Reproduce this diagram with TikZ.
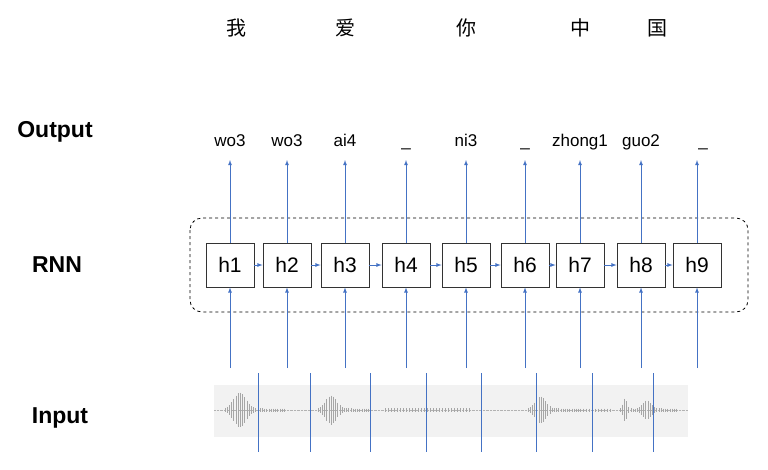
\documentclass[tikz,border=0pt]{standalone}
\usepackage{fontspec}
\setmainfont{Liberation Sans}
\newfontfamily\cjk{Noto Sans CJK SC}
\begin{document}
\begin{tikzpicture}[x=1pt,y=-1pt,
  hbox/.style={draw=black!80,line width=0.8pt,minimum width=48pt,minimum height=44pt,font=\fontsize{21}{24}\selectfont,fill=white},
  blu/.style={draw={rgb,255:red,68;green,114;blue,196},line width=0.8pt},
  arr/.style={blu,-latex},
  lab/.style={font=\fontsize{17}{19}\selectfont},
  side/.style={font=\bfseries\fontsize{23}{26}\selectfont},
  cn/.style={font=\cjk\fontsize{20}{22}\selectfont}]
\useasboundingbox (0,0) rectangle (768,469);
\node[side] (lo) at (55,132) {Output};
\node[side] (lr) at (57,265) {RNN};
\node[side] (li) at (60,418) {Input};
\foreach \c/\x in {我/236,爱/345,你/466,中/580,国/657}{\node[cn] at (\x,28) {\c};}
\draw[dashed,line width=0.8pt,rounded corners=12pt] (190,218) rectangle (748,312);
\fill[gray!10] (214,385) rectangle (688,437);
\draw[gray!60,densely dotted,line width=0.4pt] (214,410) -- (688,410);
% waveform
\foreach \s/\e/\a in {225/285/16, 318/372/13, 528/580/12, 620/640/10, 637/678/8}{
  \pgfmathtruncatemacro{\n}{(\e-\s)/2.2}
  \foreach \k in {0,...,\n}{
    \pgfmathsetmacro{\x}{\s+2.2*\k}
    \pgfmathsetmacro{\t}{\k/\n}
    \pgfmathsetmacro{\h}{\a*exp(-((\t-0.25)^2)/0.02)+1.5}
    \draw[gray!70,line width=0.7pt] (\x,410-\h) -- (\x,410+\h);
  }}
\foreach \x in {385,388,...,470}{\draw[gray!70,line width=0.7pt] (\x,408) -- (\x,412);}
\foreach \x in {580,583,...,610}{\draw[gray!70,line width=0.7pt] (\x,408.5) -- (\x,411.5);}
\foreach \x in {258,310,370,426,481,536,592,653}{\draw[blu] (\x,373) -- (\x,452);}
\foreach \i/\x/\o in {1/230/wo3,2/287/wo3,3/345/ai4,4/406/\_,5/466/ni3,6/525/\_,7/580/zhong1,8/641/guo2,9/703/\_}{
  \node[lab,anchor=base] (o\i) at (\x,146) {\o};
}
\foreach \i/\x in {1/230,2/287,3/345,4/406,5/466,6/525,7/580,8/641,9/697}{
  \node[hbox] (h\i) at (\x,265) {h\i};
  \coordinate (in\i) at (\x,368);
  \coordinate (out\i) at (\x,160);
  \draw[arr] (in\i) -- (h\i.south);
  \draw[arr] (h\i.north) -- (out\i);
}
\foreach \i [evaluate=\i as \j using int(\i+1)] in {1,...,8}{\draw[arr] (h\i.east) -- (h\j.west);}
\end{tikzpicture}
\end{document}
